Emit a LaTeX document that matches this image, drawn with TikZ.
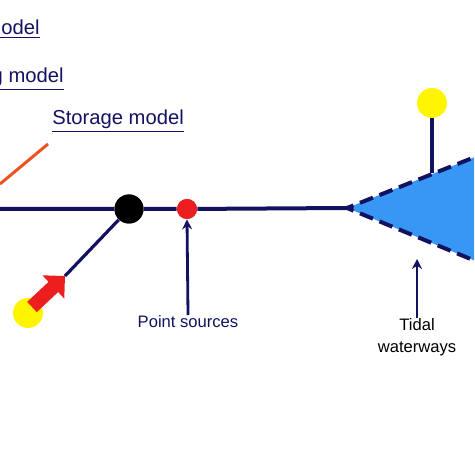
\documentclass[tikz,border=0pt]{standalone}
\usepackage{fontspec}
\setmainfont{Liberation Sans}
\usetikzlibrary{arrows.meta}
\definecolor{navy}{RGB}{18,18,96}
\definecolor{tidal}{RGB}{56,150,245}
\definecolor{rimorange}{RGB}{235,82,32}
\definecolor{dotyellow}{RGB}{255,245,0}
\definecolor{srcred}{RGB}{236,30,30}

\begin{document}
\begin{tikzpicture}[x=0.5pt,y=-0.5pt,
  dot/.style={circle,inner sep=0pt,minimum size=#1},
  model/.style={text=navy,font=\fontsize{10.1}{12}\selectfont,inner sep=0pt},
  tag/.style={font=\fontsize{8.3}{11}\selectfont,inner sep=0pt,align=center},
  pointer/.style={-{Stealth[length=5pt,width=5pt]},line width=1.4pt,navy}]
\useasboundingbox (0,0) rectangle (474,474);
\clip (0,0) rectangle (474,474);
%\fill[white] (0,0) rectangle (474,474);

% model labels
\node[model,anchor=east] (m1) at (40,29) {\underline{model}};
\node[model,anchor=east] (m2) at (64,79) {\underline{g model}};
\node[model,anchor=west] (m3) at (52,121) {\underline{Storage model}};
\draw[rimorange,line width=1.5pt] (0,184) -- (48,144);

% estuary
\coordinate (tip) at (347,208);
\coordinate (top) at (490,151);
\coordinate (bot) at (490,267);
\fill[tidal] (tip) -- (top) -- (bot) -- cycle;
\draw[navy,line width=2pt,dash pattern=on 7pt off 3.5pt] (top) -- (tip) -- (bot);

% main channel
\coordinate (w) at (0,209);
\node[dot=14.5pt,fill=black] (junc) at (129,209) {};
\node[dot=10pt,fill=srcred] (src) at (187,209) {};
\draw[navy,line width=2pt] (w) -- (junc) -- (src) -- (tip);
\node[dot=14.5pt,fill=black] at (junc) {};
\node[dot=10pt,fill=srcred] at (src) {};

% tributary
\node[dot=15pt,fill=dotyellow] (yl) at (28,313) {};
\coordinate (tail) at (32,307);
\coordinate (head) at (65,276);
\draw[navy,line width=1.6pt] (junc) -- (head);
\draw[srcred,line width=7pt,-{Triangle[length=8pt,width=15.5pt]}] (tail) -- (head);

% side inflow
\node[dot=15pt,fill=dotyellow] (yt) at (432,103) {};
\coordinate (bank) at (432,173);
\draw[navy,line width=1.8pt] (bank) -- (yt);

% annotations
\node[tag,text=navy] (ps) at (188,322) {Point sources};
\draw[pointer] (188,315) -- (src.south);
\node[tag] (tw) at (417,337) {Tidal\\waterways};
\coordinate (tws) at (417,259);
\draw[pointer] (tw.north) -- (tws);
\end{tikzpicture}
\end{document}
